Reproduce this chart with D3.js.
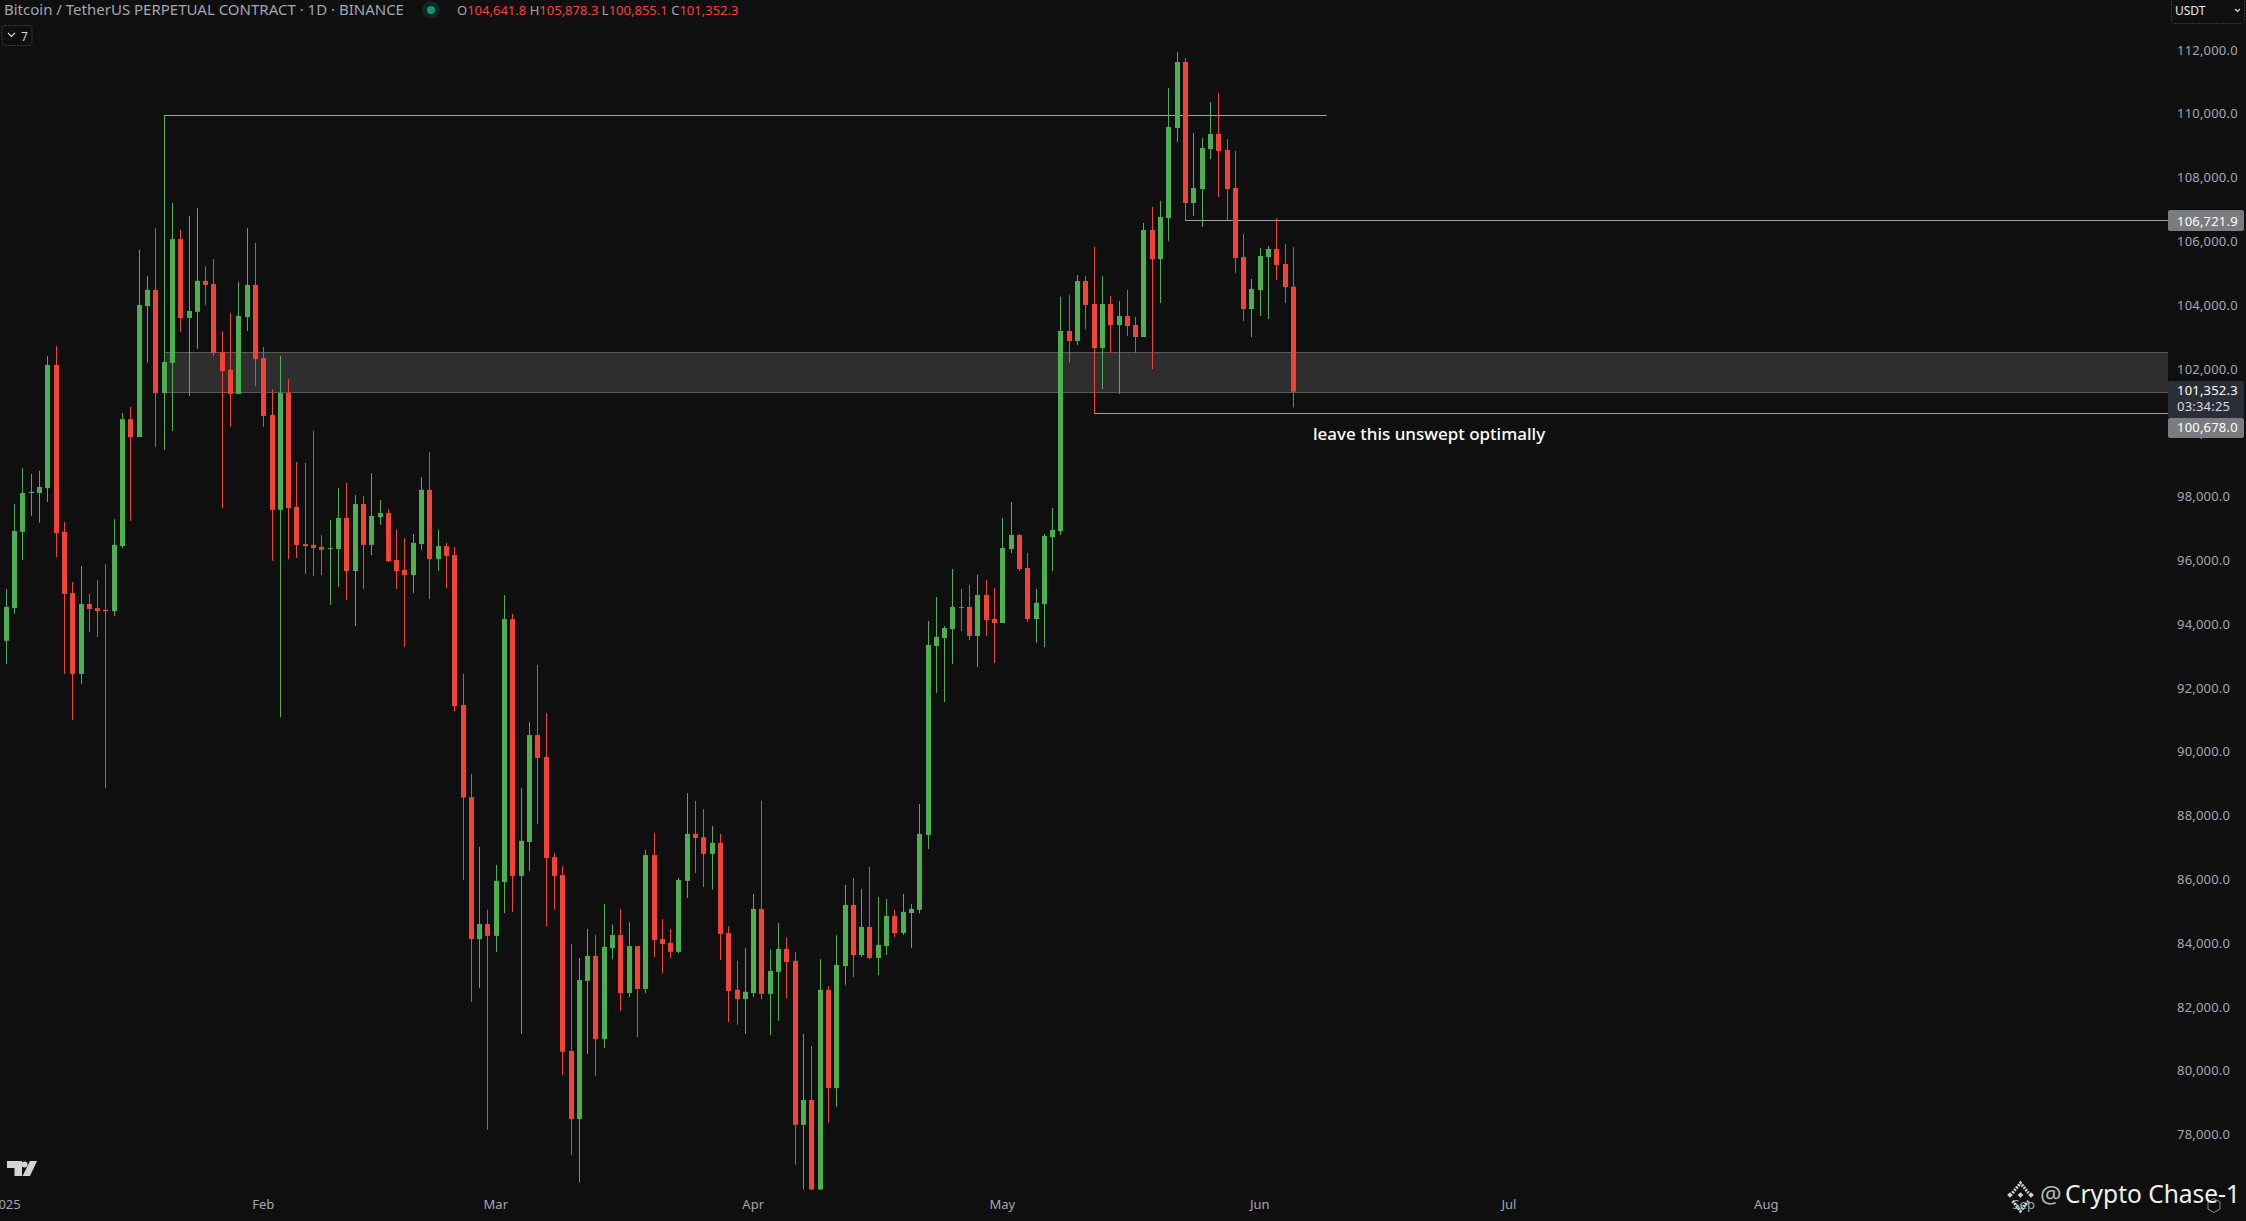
<!DOCTYPE html>
<html><head><meta charset="utf-8">
<script src="https://cdn.jsdelivr.net/npm/d3@7"></script>
<style>
html,body{margin:0;padding:0;background:#0f0f0f;overflow:hidden}
svg{display:block}
text{font-family:"Noto Sans",sans-serif}
</style></head><body>
<svg id="c" width="2246" height="1221"></svg>
<script>
const opens=[93540,94564,96957,98173,98173,98326,102190,96957,95037,92504,
94692,94564,94513,94474,96509,100489,99926,104033,104545,101307,
102254,106132,103662,103854,104826,104724,102587,102037,101282,103688,
104698,102408,100617,97648,101307,97737,96573,96548,96483,96420,
96420,97392,95729,97827,96548,97418,97545,96074,95767,95600,
96573,98275,96100,96509,96228,91531,88640,84187,84660,84289,
85978,94219,86170,87232,90585,89894,86759,86196,80681,78544,
82881,83662,81052,83905,84315,82498,83969,82626,86823,84187,
84071,83790,86016,87488,87386,86861,87206,84379,82600,82306,
82498,85134,82472,83163,83880,83508,78365,79145,76300,82600,
79516,83342,85261,83688,84570,83598,83969,84916,84379,85006,
85108,87453,93378,93629,93911,94600,94600,93691,94977,94224,
94099,96419,96858,95823,94224,94695,96795,96983,103253,102940,
104821,104100,102720,104100,103441,103723,103441,103065,106419,105510,
106796,109617,111686,107266,107705,108959,109429,108927,107736,105573,
103943,104538,105573,105824,105354,104641.8];
const highs=[95166,97827,98953,98774,98864,102472,102779,97264,95383,95882,
95012,95447,95946,97354,100681,100872,105799,104980,106477,110030,
107270,106426,106861,107104,105287,105505,103240,103816,104788,106477,
106016,102753,101435,102472,101743,99145,99119,100118,96855,97328,
98326,98493,98109,98083,98799,97955,97673,97021,96765,96893,
98672,99465,97021,96611,96483,92504,89369,87078,85108,86515,
94974,94385,88921,90994,92785,91276,86887,86477,84033,83598,
84507,84315,85287,84635,85134,84724,83969,86989,87514,84814,
84507,86106,88767,88524,88269,87731,87488,84596,83508,83905,
85607,88524,83867,84698,84238,83790,81218,80834,83560,82715,
84315,85888,86106,85760,86451,85505,85441,85108,85607,85287,
88425,94162,94914,94005,95792,95165,95290,95604,95447,95196,
97391,97892,96889,96293,95165,96889,97704,104319,104382,105009,
104977,105886,104977,104350,104194,104539,103692,106639,107141,107329,
110871,111998,111812,109460,109304,110432,110714,109272,108896,106294,
104883,105855,105918,106796,105981,105878.3];
const lows=[92811,94385,96074,97456,97238,97891,96164,92504,91058,92184,
93822,93655,88921,94321,96445,97303,99926,102254,99618,99529,
100118,103227,101218,102689,104071,102472,97699,100245,101282,103252,
101525,100245,96048,91148,96100,96138,95639,95575,95600,94666,
95230,94820,94001,95166,96228,97174,96010,95166,93348,95037,
96394,94845,95729,95191,91327,86042,82216,82651,78211,83790,
85006,85044,81218,86323,87795,84596,85108,79926,77418,76560,
80591,79900,80770,83560,81935,82370,81116,82498,83623,83124,
83598,83751,85479,86260,85825,85735,83534,81589,81499,81218,
82370,82306,81179,81627,82344,77111,74900,76000,74600,78429,
78928,82753,82997,83623,83560,83060,83688,84251,84315,83905,
85000,87014,91905,91622,92814,93848,93566,92720,93691,92845,
94099,96293,95729,94130,93472,93346,95729,96858,102260,102814,
103316,100672,101435,102563,101278,103096,102563,103065,102062,104131,
106075,109178,106723,106858,106514,108645,107454,106723,105071,103567,
103065,103723,103629,104852,104131,100855.1];
const closes=[94603,96982,98173,98211,98364,102190,96918,95012,92504,94692,
94539,94474,94474,96548,100489,99926,104071,104545,101307,102280,
106132,103662,103879,104826,104698,102562,101998,101282,103726,104698,
102370,100591,97648,101307,97699,96548,96509,96445,96394,96445,
97392,95729,97827,96548,97456,97545,96036,95729,95600,96611,
98275,96100,96509,96202,91493,88627,84187,84660,84289,86016,
94219,86170,87270,90585,89868,86733,86170,80655,78544,82907,
83662,81052,83943,84315,82498,83969,82626,86823,84161,84033,
83790,86042,87488,87360,86861,87206,84353,82562,82306,82536,
85134,82472,83188,83880,83470,78365,79145,76300,82600,79516,
83380,85261,83688,84570,83598,84008,84916,84379,85044,85134,
87488,93409,93660,93942,94600,94569,93691,94977,94193,94099,
96450,96858,95792,94224,94726,96826,97015,103253,102940,104821,
104068,102720,104100,103441,103723,103410,103065,106419,105510,106827,
109649,111686,107266,107736,108990,109429,108896,107705,105542,103943,
104570,105604,105824,105322,104633,101352.3];
const startDate=new Date(Date.UTC(2025,0,1));
const dates=opens.map((_,i)=>d3.utcDay.offset(startDate,i));
const priceTicks=d3.range(78000,112001,2000);
const monthDates=[0,1,2,3,4,5,6,7,8].map(m=>new Date(Date.UTC(2025,m,1)));
const monthLabels=["2025","Feb","Mar","Apr","May","Jun","Jul","Aug","Sep"];
const zone={top:102589,bottom:101335};
const levels=[
 {price:110030,from:19,to:1326.7},
 {price:106721.9,from:142,to:2168},
 {price:100678.0,from:131,to:2168}
];
const headerParts=[["O","104,641.8"],["H","105,878.3"],["L","100,855.1"],["C","101,352.3"]];

const UP="#4caf50",DOWN="#f44336",BG="#0f0f0f",AXT="#a3a6af";
const svg=d3.select("#c");
svg.append("rect").attr("width",2246).attr("height",1221).attr("fill",BG);
const x=d3.scaleUtc().domain([startDate,new Date(Date.UTC(2025,8,1))]).range([6.33,2024.2]);
const y=d3.scaleLinear().domain([112000,78000]).range([52,1136.5]);
const xIdx=i=>x(dates[i]);

svg.append("defs").append("clipPath").attr("id","pane").append("rect")
  .attr("x",0).attr("y",0).attr("width",2168).attr("height",1189.5);
const pane=svg.append("g").attr("clip-path","url(#pane)");

// zone
const zoneX=Math.floor(xIdx(19));
pane.append("rect").attr("x",zoneX).attr("width",2168-zoneX)
  .attr("y",Math.round(y(zone.top))).attr("height",Math.round(y(zone.bottom))-Math.round(y(zone.top)))
  .attr("fill","#2e2e2e");
[zone.top,zone.bottom].forEach(p=>{
  pane.append("rect").attr("x",zoneX).attr("width",2168-zoneX).attr("y",Math.round(y(p))).attr("height",1).attr("fill","#595959");
});
// level lines
levels.forEach(l=>{
  const sx=Math.floor(xIdx(l.from));
  pane.append("rect").attr("x",sx).attr("width",l.to-sx).attr("y",Math.round(y(l.price))).attr("height",1).attr("fill","#a0a0a0");
});
// candles
const idx=d3.range(opens.length);
const col=i=>closes[i]>=opens[i]?UP:DOWN;
pane.selectAll("rect.w").data(idx).join("rect").attr("class","w")
  .attr("x",i=>Math.floor(xIdx(i))).attr("width",1)
  .attr("y",i=>y(highs[i])).attr("height",i=>y(lows[i])-y(highs[i])).attr("fill",col);
pane.selectAll("rect.b").data(idx).join("rect").attr("class","b")
  .attr("x",i=>Math.floor(xIdx(i))-2).attr("width",5)
  .attr("y",i=>y(Math.max(opens[i],closes[i])))
  .attr("height",i=>Math.max(1,Math.abs(y(opens[i])-y(closes[i])))).attr("fill",col);

// price axis
const yAxis=d3.axisRight(y).tickValues(priceTicks).tickFormat(d3.format(",.1f")).tickSize(0).tickPadding(0);
const gy=svg.append("g").attr("transform","translate(2177,-2)").call(yAxis);
gy.select(".domain").remove();
gy.selectAll("text").attr("fill",AXT).style("font-size","13px").style("font-family",'"Noto Sans",sans-serif').style("letter-spacing","0.2px");

// time axis
const xAxis=d3.axisBottom(x).tickValues(monthDates).tickFormat((d,i)=>monthLabels[i]).tickSize(0).tickPadding(0);
const gx=svg.append("g").attr("transform","translate(-1,1200)").call(xAxis);
gx.select(".domain").remove();
gx.selectAll("text").attr("fill",AXT).style("font-size","13px").style("font-family",'"Noto Sans",sans-serif');

// price tags
function tag(y0,h,fill,lines){
  svg.append("rect").attr("x",2168).attr("y",y0).attr("width",76).attr("height",h).attr("rx",2).attr("fill",fill);
  lines.forEach(l=>svg.append("text").attr("x",2177).attr("y",l.y).attr("fill",l.c||"#fff")
    .style("font-size","13px").style("letter-spacing","0.2px").text(l.t));
}
tag(210,21,"#7b7c80",[{t:d3.format(",.1f")(levels[1].price),y:225.5}]);
tag(381,37,"#2a2e39",[{t:d3.format(",.1f")(closes[155]),y:395},{t:"03:34:25",y:411,c:"#d8d9dd"}]);
tag(418,20,"#7b7c80",[{t:d3.format(",.1f")(levels[2].price),y:432}]);

// annotation
svg.append("text").attr("x",1313).attr("y",440).attr("fill","#fff")
  .style("font-size","17px").style("font-weight","500").text("leave this unswept optimally");

// header
svg.append("text").attr("x",4).attr("y",15).attr("fill","#a3a6af").style("font-size","15px")
  .text("Bitcoin / TetherUS PERPETUAL CONTRACT · 1D · BINANCE");
svg.append("circle").attr("cx",431).attr("cy",10).attr("r",9).attr("fill","#17231f");
svg.append("circle").attr("cx",431).attr("cy",10).attr("r",4).attr("fill","#089981");
const hdr=svg.append("text").attr("x",457).attr("y",15).style("font-size","13px");
headerParts.forEach(([k,v],i)=>{
  hdr.append("tspan").attr("fill","#a3a6af").attr("dx",i?3.5:0).text(k);
  hdr.append("tspan").attr("fill",DOWN).text(v);
});

// legend toggle
svg.append("rect").attr("x",2).attr("y",25.5).attr("width",30).attr("height",20).attr("rx",3)
  .attr("fill","none").attr("stroke","#3a3a3a").attr("stroke-dasharray","2 1");
svg.append("path").attr("d","M8 33 l3.5 3.5 l3.5 -3.5").attr("fill","none").attr("stroke","#d8d8d8").attr("stroke-width",1.2);
svg.append("text").attr("x",21).attr("y",41).attr("fill","#d8d8d8").style("font-size","12px").text("7");

// currency button
svg.append("rect").attr("x",2171.5).attr("y",-6).attr("width",73).attr("height",29.5).attr("rx",3)
  .attr("fill","none").attr("stroke","#3a3a3a").attr("stroke-dasharray","2 1");
svg.append("text").attr("x",2175).attr("y",15).attr("fill","#e6e6e6").style("font-size","12px").text("USDT");
svg.append("path").attr("d","M2235 9 l2.5 2.5 l2.5 -2.5").attr("fill","none").attr("stroke","#d8d8d8").attr("stroke-width",1.2);

// TV logo
svg.append("path").attr("fill","#d4d4d4")
  .attr("d","M7 1161 H22 V1176 H14.5 V1168 H7 Z M30 1161 H37 L30 1176 H22.5 Z");
svg.append("circle").attr("cx",24.5).attr("cy",1164.5).attr("r",3).attr("fill","#d4d4d4");

// watermark
const wm=svg.append("g").attr("fill","#cfcfcf");
[[2020.5,1189,6],[2020.5,1205,6]].forEach(([cx,cy,r])=>{
  wm.append("path").attr("fill","none").attr("stroke","#cfcfcf").attr("stroke-width",3).attr("stroke-dasharray","2 1")
    .attr("d",cy<1195?`M${cx-r-2} ${cy+r-2} L${cx} ${cy-r} L${cx+r+2} ${cy+r-2}`:`M${cx-r-2} ${cy-r+2} L${cx} ${cy+r} L${cx+r+2} ${cy-r+2}`);
});
[[2010,1195],[2020.5,1195],[2031,1195]].forEach(([cx,cy])=>{
  wm.append("rect").attr("x",cx-2).attr("y",cy-2).attr("width",4).attr("height",4).attr("transform",`rotate(45 ${cx} ${cy})`);
});
svg.append("path").attr("fill","none").attr("stroke","#8a8a8a").attr("stroke-width",1)
  .attr("d","M2208 1202 l6 -3.5 l6 3.5 v7 l-6 3.5 l-6 -3.5 Z");
svg.append("text").attr("x",2040).attr("y",1203).attr("fill","#b5b5b5").style("font-size","24px").text("@");
svg.append("text").attr("x",2065).attr("y",1203).attr("fill","#f0f0f0").style("font-size","24.5px").text("Crypto Chase-1");
</script>
</body></html>
